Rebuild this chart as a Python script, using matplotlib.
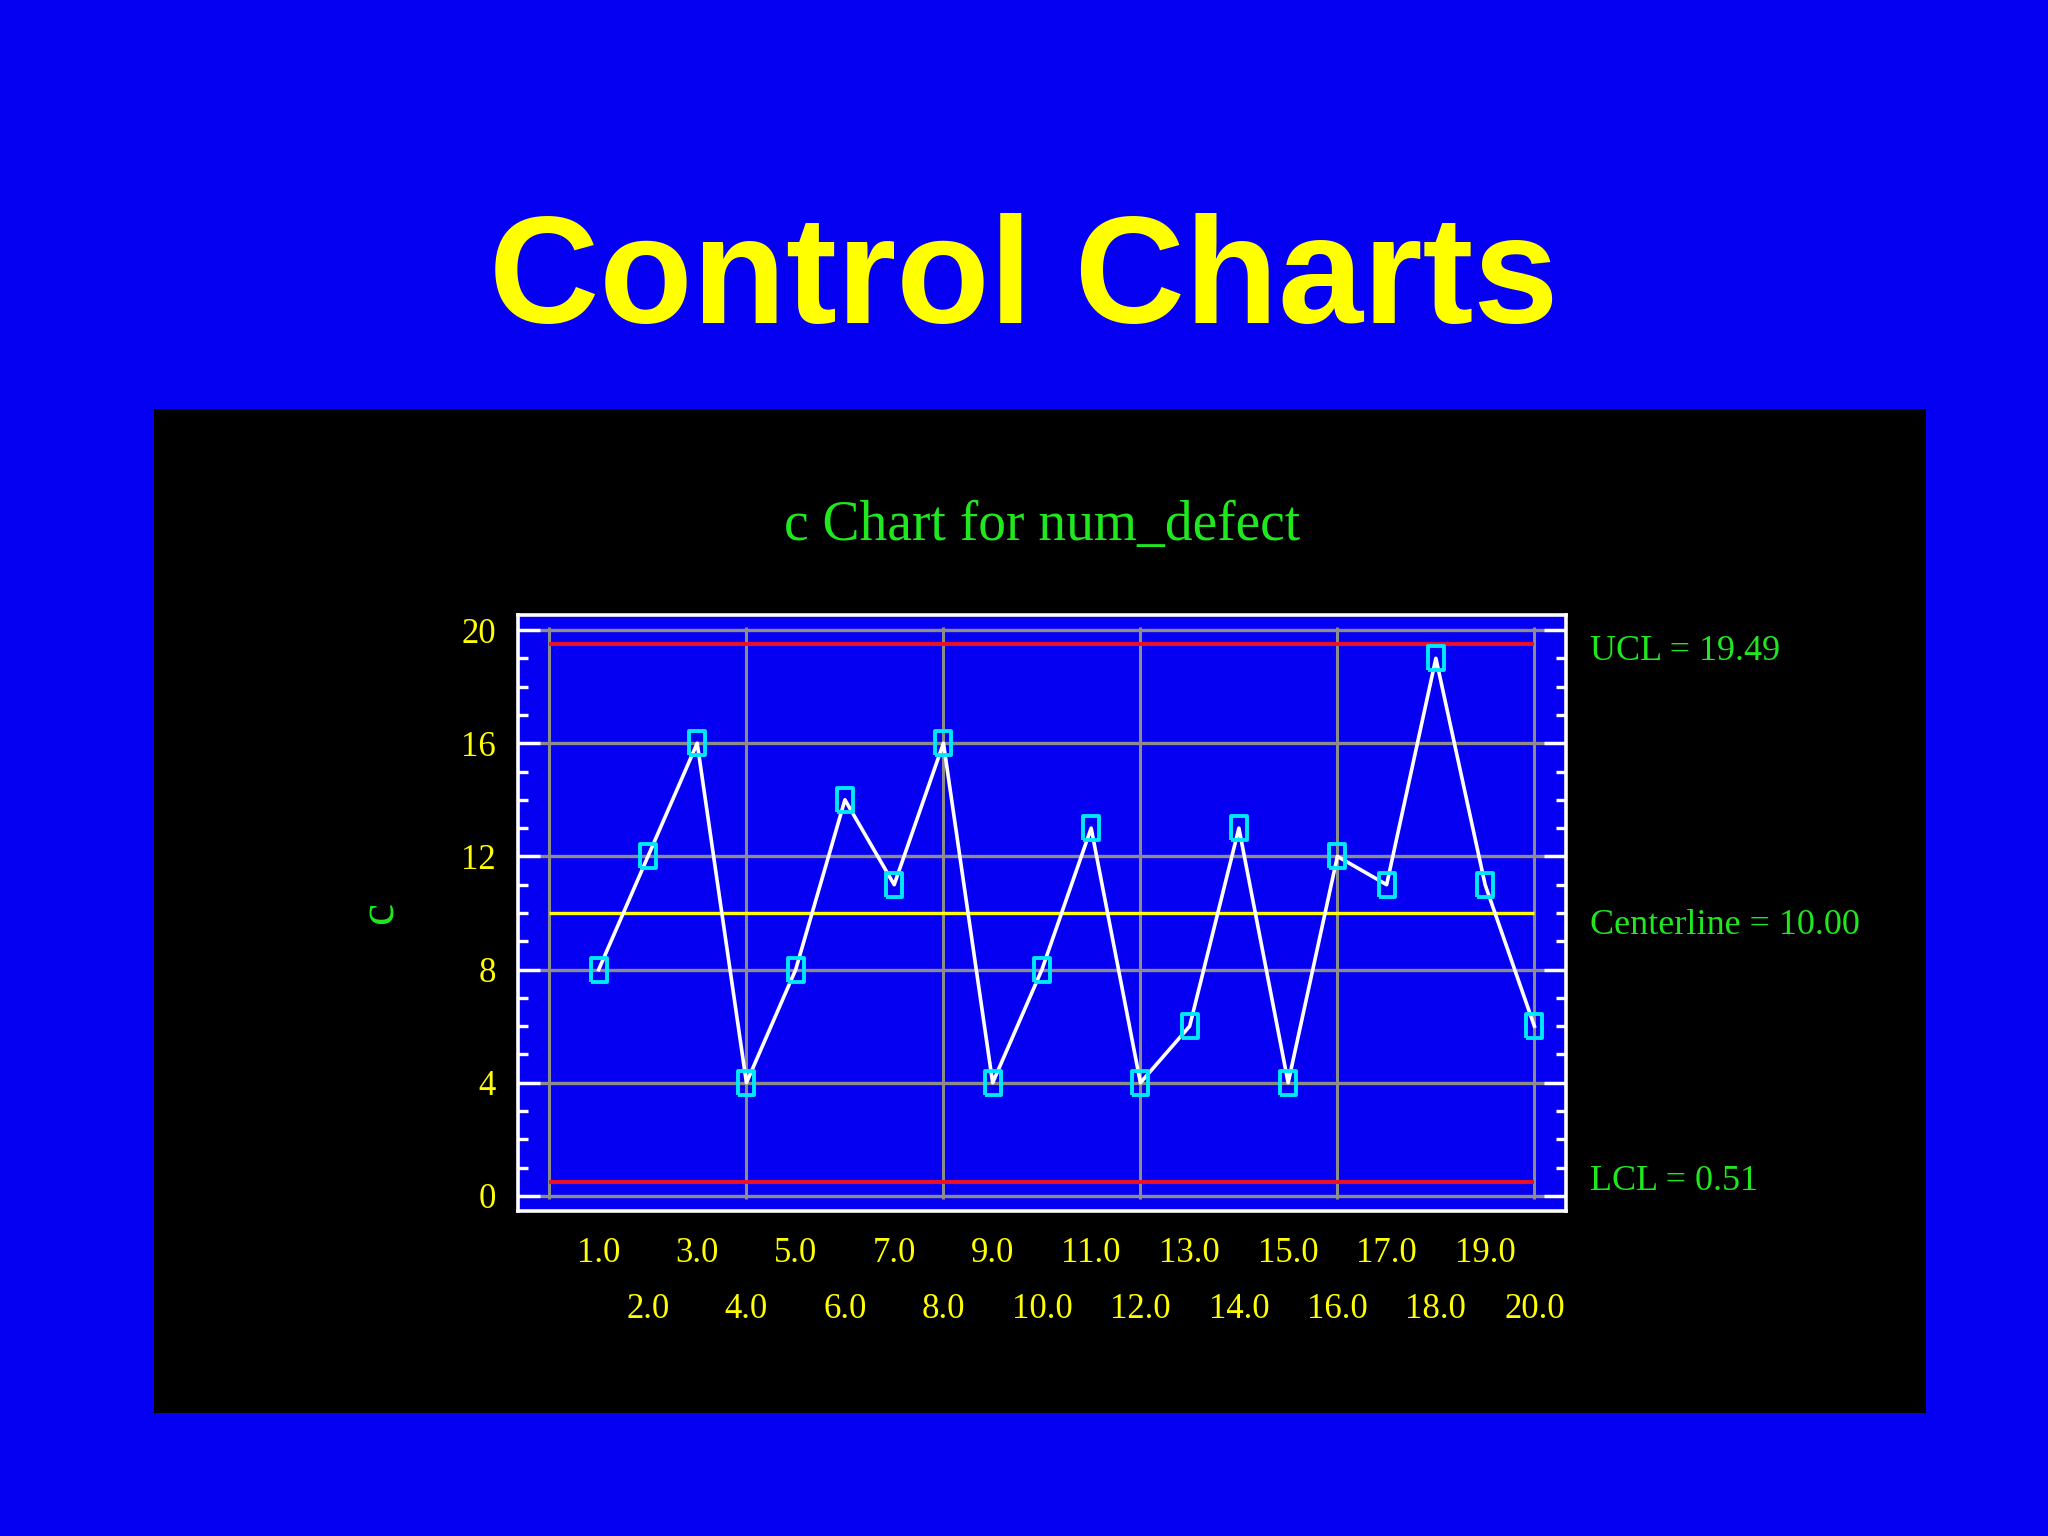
import numpy as np
import matplotlib
matplotlib.use("Agg")
import matplotlib.pyplot as plt
from matplotlib.patches import Rectangle
from matplotlib.transforms import offset_copy
from matplotlib.ticker import MultipleLocator, FixedLocator, FixedFormatter

# ---------------- data ----------------
samples = list(range(1, 21))
num_defect = [8, 12, 16, 4, 8, 14, 11, 16, 4, 8, 13, 4, 6, 13, 4, 12, 11, 19, 11, 6]
ucl = 19.49
centerline = 10.00
lcl = 0.51
slide_title = "Control Charts"
chart_title = "c Chart for num_defect"
y_label = "c"
y_ticks = [0, 4, 8, 12, 16, 20]
odd_tick_labels = ["1.0", "3.0", "5.0", "7.0", "9.0", "11.0", "13.0", "15.0", "17.0", "19.0"]
even_tick_labels = ["2.0", "4.0", "6.0", "8.0", "10.0", "12.0", "14.0", "16.0", "18.0", "20.0"]

# ---------------- style ----------------
BLUE = "#0500f2"
GREEN = "#1fe81f"
YELLOW = "#ffff00"
RED = "#f01020"
GRAY = "#8c8c8c"
CYAN = "#00e8ff"
SERIF = ["Liberation Serif", "DejaVu Serif"]

fig = plt.figure(figsize=(20.48, 15.36), dpi=100, facecolor=BLUE)

# black chart panel
fig.patches.append(Rectangle((0.0752, 0.0801), 0.8652, 0.6536, transform=fig.transFigure,
                             facecolor="black", edgecolor="none", zorder=-10))

fig.text(0.5, 0.7897, slide_title, ha="center", va="baseline", color=YELLOW,
         fontsize=110, fontweight="bold", family=["Liberation Sans", "DejaVu Sans"])

ax = fig.add_axes([0.2529, 0.2116, 0.5117, 0.3880])
ax.set_facecolor(BLUE)
ax.set_xlim(-0.64, 20.64)
ax.set_ylim(-0.53, 20.53)

for sp in ax.spines.values():
    sp.set_color("white")
    sp.set_linewidth(2.6)

# y axis ticks
ax.yaxis.set_major_locator(FixedLocator(y_ticks))
ax.yaxis.set_minor_locator(MultipleLocator(1))
ax.tick_params(axis="y", which="major", direction="in", length=15.5, width=2.4, color="white",
               left=True, right=True, labelleft=True, labelright=False, pad=16,
               labelcolor=YELLOW, labelsize=25)
ax.tick_params(axis="y", which="minor", direction="in", length=7.5, width=2.4, color="white",
               left=True, right=True)
for lab in ax.get_yticklabels():
    lab.set_family(SERIF)

# x axis: odd labels on major ticks (upper row), even on minor ticks (lower row)
odd_pos = samples[0::2]
even_pos = samples[1::2]
ax.xaxis.set_major_locator(FixedLocator(odd_pos))
ax.xaxis.set_major_formatter(FixedFormatter(odd_tick_labels))
ax.xaxis.set_minor_locator(FixedLocator(even_pos))
ax.xaxis.set_minor_formatter(FixedFormatter(even_tick_labels))
ax.tick_params(axis="x", which="major", length=0, pad=19, labelcolor=YELLOW, labelsize=25)
ax.tick_params(axis="x", which="minor", length=0, pad=59, labelcolor=YELLOW, labelsize=25)
for lab in ax.get_xticklabels(which="both"):
    lab.set_family(SERIF)

# grid
ax.grid(axis="y", which="major", color=GRAY, linewidth=2.4, zorder=1)
ax.set_axisbelow(True)
ax.vlines(np.arange(0, 21, 4), -0.12, 20.12, color=GRAY, linewidth=2.2, zorder=1)

# control lines
n = len(samples)
ax.hlines([ucl, lcl], 0, n, color=RED, linewidth=2.8, zorder=2)
ax.hlines([centerline], 0, n, color=YELLOW, linewidth=2.4, zorder=2)

# data
rect_marker = [(-2, -3), (2, -3), (2, 3), (-2, 3), (-2, -3)]
ax.plot(samples, num_defect, color="white", linewidth=2.6, zorder=3)
ax.plot(samples, num_defect, linestyle="none", marker=rect_marker, markersize=17,
        markerfacecolor="none", markeredgecolor=CYAN, markeredgewidth=2.8, zorder=4)

# labels
ax.set_title(chart_title, color=GREEN, fontsize=40, family=SERIF, pad=54)
ax.set_ylabel(y_label, color=GREEN, fontsize=36, family=SERIF)
ax.yaxis.set_label_coords(-0.109, 0.5)

label_specs = [(ucl, f"UCL = {ucl:.2f}", -5), (centerline, f"Centerline = {centerline:.2f}", -9),
               (lcl, f"LCL = {lcl:.2f}", 0)]
for val, txt, dy in label_specs:
    tr = offset_copy(ax.get_yaxis_transform(), fig=fig, x=0, y=dy, units="points")
    ax.text(1.0229, val, txt, transform=tr, ha="left", va="center",
            color=GREEN, fontsize=26, family=SERIF, clip_on=False)

fig.savefig("out.png", dpi=100, facecolor=BLUE)
